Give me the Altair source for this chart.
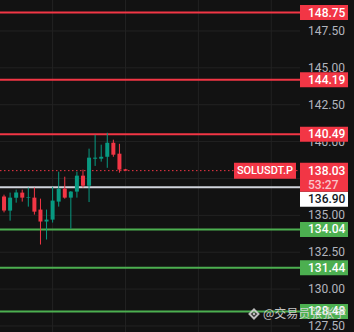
import altair as alt
import pandas as pd

# ---- data ----
candle_idx = list(range(21))
candle_open = [136.27, 135.32, 136.20, 136.54, 136.18, 136.20, 135.39, 134.58, 134.71, 135.93, 136.81,
               136.20, 136.61, 137.69, 137.01, 138.84, 138.84, 138.97, 139.92, 139.18, 138.12]
candle_high = [136.40, 136.54, 136.74, 136.74, 136.88, 136.88, 136.13, 135.39, 136.94, 137.96, 137.62,
               136.65, 137.96, 138.10, 139.52, 140.46, 139.79, 140.60, 140.13, 139.85, 138.15]
candle_low = [135.20, 134.64, 135.86, 135.93, 135.59, 135.05, 133.02, 133.36, 134.51, 135.59, 136.13,
              134.10, 136.20, 136.88, 135.90, 138.35, 138.64, 138.22, 138.97, 137.89, 138.03]
candle_close = [135.32, 136.20, 136.54, 136.20, 136.22, 135.25, 134.58, 134.71, 136.00, 136.81, 136.20,
                136.61, 137.69, 137.01, 138.91, 138.91, 138.97, 139.92, 139.11, 138.10, 138.03]

red_levels = [148.75, 144.19, 140.49]
green_levels = [134.04, 131.44, 128.48]
white_level = [136.90]
current_price = [138.03]
countdown = ["53:27"]
symbol_name = ["SOLUSDT.P"]
tick_values = [147.5, 145.0, 142.5, 140.0, 137.5, 135.0, 132.5, 130.0, 127.5]
vgrid_idx = [8, 20, 32, 44]
watermark = ["@交易员张张学"]

# ---- styles ----
BG = "#121212"
GRID = "#222222"
RED = "#F23645"
GREEN = "#4CAF50"
UP = "#089981"
DOWN = "#F23645"
WHITE_LINE = "#D1D4DC"
FONT = "Roboto"

xs = alt.Scale(domain=[0.16, 56.8], nice=False, zero=False)
ys = alt.Scale(domain=[127.09, 149.60], nice=False, zero=False)

candles = pd.DataFrame({"i": candle_idx, "open": candle_open, "high": candle_high,
                        "low": candle_low, "close": candle_close})
candles["dir"] = ["up" if c >= o else "down" for o, c in zip(candle_open, candle_close)]
ticks = pd.DataFrame({"p": tick_values})
vgrid = pd.DataFrame({"i": vgrid_idx})
red_df = pd.DataFrame({"p": red_levels})
green_df = pd.DataFrame({"p": green_levels})
white_df = pd.DataFrame({"p": white_level})
cur_df = pd.DataFrame({"p": current_price, "cd": countdown, "name": symbol_name})
one = pd.DataFrame({"w": watermark})

X0 = alt.value(0)
X300 = alt.value(300)

hgrid = alt.Chart(ticks).mark_rule(color=GRID, strokeWidth=1).encode(
    y=alt.Y("p:Q", scale=ys, axis=None), x=X0, x2=X300)
vg = alt.Chart(vgrid).mark_rule(color=GRID, strokeWidth=1).encode(
    x=alt.X("i:Q", scale=xs, axis=None), y=alt.value(0), y2=alt.value(332))

def level_line(df, color):
    return alt.Chart(df).mark_rule(color=color, strokeWidth=2).encode(
        y=alt.Y("p:Q", scale=ys, axis=None), x=X0, x2=X300)

cur_line = alt.Chart(cur_df).mark_rule(color=RED, strokeWidth=1, strokeDash=[1.5, 2.5]).encode(
    y=alt.Y("p:Q", scale=ys, axis=None), x=X0, x2=X300)

color_enc = alt.Color("dir:N", scale=alt.Scale(domain=["up", "down"], range=[UP, DOWN]), legend=None)
wicks = alt.Chart(candles).mark_rule(strokeWidth=1).encode(
    x=alt.X("i:Q", scale=xs, axis=None),
    y=alt.Y("low:Q", scale=ys, axis=None), y2="high:Q", color=color_enc)
bodies = alt.Chart(candles).mark_bar(size=4, minBandSize=1).encode(
    x=alt.X("i:Q", scale=xs, axis=None),
    y=alt.Y("open:Q", scale=ys, axis=None), y2="close:Q", color=color_enc)

tick_text = alt.Chart(ticks).mark_text(align="left", baseline="middle", font=FONT, fontSize=12,
                                        color="#B2B5BE").encode(
    y=alt.Y("p:Q", scale=ys, axis=None), x=alt.value(308), text=alt.Text("p:Q", format=".2f"))

BOX = "M-1,-0.3125L1,-0.3125L1,0.3125L-1,0.3125Z"

def level_box(df, fill, text_color, yoff=0):
    box = alt.Chart(df).mark_point(shape=BOX, filled=True, size=2304, opacity=1, strokeWidth=0,
                                   color=fill, yOffset=yoff).encode(
        y=alt.Y("p:Q", scale=ys, axis=None), x=alt.value(324))
    txt = alt.Chart(df).mark_text(align="left", baseline="middle", font=FONT, fontSize=12,
                                  fontWeight=500, color=text_color, yOffset=yoff).encode(
        y=alt.Y("p:Q", scale=ys, axis=None), x=alt.value(308), text=alt.Text("p:Q", format=".2f"))
    return box + txt

cur_box = alt.Chart(cur_df).mark_point(shape="M-1,-0.3333L1,-0.3333L1,0.875L-1,0.875Z", filled=True,
                                       size=2304, opacity=1, strokeWidth=0, color=RED).encode(
    y=alt.Y("p:Q", scale=ys, axis=None), x=alt.value(324))
cur_txt = alt.Chart(cur_df).mark_text(align="left", baseline="middle", font=FONT, fontSize=12,
                                      fontWeight=500, color="white").encode(
    y=alt.Y("p:Q", scale=ys, axis=None), x=alt.value(308), text=alt.Text("p:Q", format=".2f"))
cd_txt = alt.Chart(cur_df).mark_text(align="left", baseline="middle", font=FONT, fontSize=12,
                                     fontWeight=500, color="#F9C4CB", yOffset=14).encode(
    y=alt.Y("p:Q", scale=ys, axis=None), x=alt.value(308), text="cd:N")
name_box = alt.Chart(cur_df).mark_point(shape="M-1,-0.258L1,-0.258L1,0.258L-1,0.258Z", filled=True,
                                        size=3844, opacity=1, strokeWidth=0, color=RED).encode(
    y=alt.Y("p:Q", scale=ys, axis=None), x=alt.value(265))
name_txt = alt.Chart(cur_df).mark_text(align="center", baseline="middle", font=FONT, fontSize=11,
                                       fontWeight=500, color="white").encode(
    y=alt.Y("p:Q", scale=ys, axis=None), x=alt.value(265), text="name:N")

wm_logo = alt.Chart(one).mark_point(shape="diamond", filled=False, size=80, strokeWidth=2,
                                    color="#D0D0D0", opacity=0.9).encode(
    x=alt.value(254), y=alt.value(314))
wm_dot = alt.Chart(one).mark_point(shape="diamond", filled=True, size=12, strokeWidth=0,
                                   color="#D0D0D0", opacity=0.9).encode(
    x=alt.value(254), y=alt.value(314))
wm_text = alt.Chart(one).mark_text(align="left", baseline="middle", font="Noto Sans CJK SC",
                                   fontSize=12, color="#D8D8D8", opacity=0.9).encode(
    x=alt.value(263), y=alt.value(314), text="w:N")

chart = alt.layer(
    hgrid, vg,
    level_line(red_df, RED), level_line(green_df, GREEN), level_line(white_df, WHITE_LINE),
    cur_line, wicks, bodies, tick_text,
    level_box(red_df, RED, "white"),
    level_box(green_df, GREEN, "white"),
    level_box(white_df, "#FFFFFF", "#131722", yoff=12),
    cur_box, cur_txt, cd_txt, name_box, name_txt,
    wm_logo, wm_dot, wm_text,
).properties(
    width=354, height=332, padding=0, background=BG,
    autosize=alt.AutoSizeParams(type="none"),
).configure_view(stroke=None)

chart.save("out.html", embed_options={"renderer": "svg", "actions": False})
